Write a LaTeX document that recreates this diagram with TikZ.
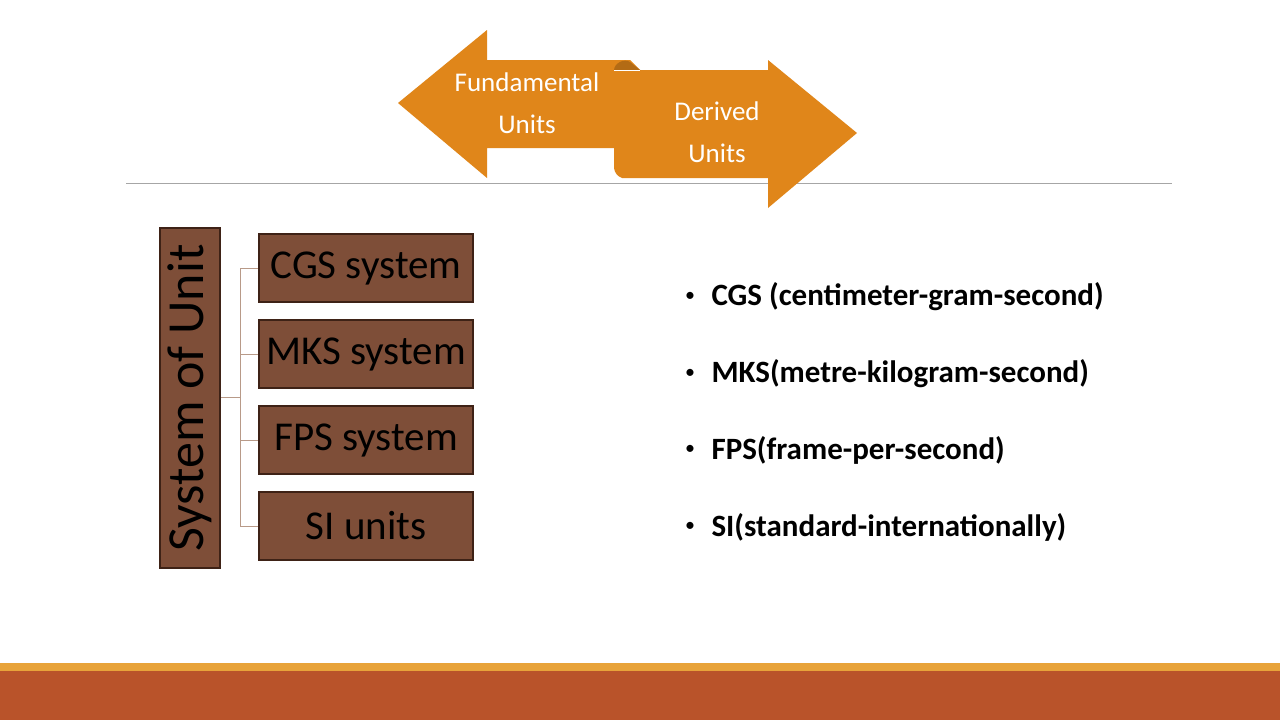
\documentclass[tikz,border=0pt]{standalone}
\usepackage{fontspec}
\setmainfont{Carlito}
\definecolor{org}{HTML}{E0861A}
\definecolor{brn}{HTML}{7E4E38}
\definecolor{brd}{HTML}{3E2216}
\definecolor{bar1}{HTML}{E8A33A}
\definecolor{bar2}{HTML}{B9532A}
\definecolor{lnk}{HTML}{B89A88}
\begin{document}
\begin{tikzpicture}[x=1pt,y=-1pt,
  box/.style={draw=brd,line width=2pt,fill=brn,minimum width=214pt,minimum height=68pt,inner sep=0pt,font=\fontsize{41}{46}\selectfont},
  bul/.style={anchor=west,font=\fontsize{31}{34}\selectfont\bfseries},
  wt/.style={text=white,font=\fontsize{27}{32}\selectfont}]
\useasboundingbox (0,0) rectangle (1280,720);
\fill[white] (0,0) rectangle (1280,720);
\fill[bar1] (0,663) rectangle (1280,671);
\fill[bar2] (0,671) rectangle (1280,720);
\draw[gray!70,line width=1pt] (126,183) -- (1172,183);
% arrows
\fill[org] (398,103) -- (487,30) -- (487,60) -- (630,60) -- (640,70) -- (640,148) -- (487,148) -- (487,178) -- cycle;
\fill[org] (614,70) -- (768,70) -- (768,60) -- (857,133) -- (768,208) -- (768,178) -- (622,178) to[bend left=30] (614,168) -- cycle;
\fill[org!80!black] (614,70) to[bend left=60] (630,62) -- (640,70) -- cycle;
\draw[white,line width=1pt] (614,70) -- (640,70);
\node[wt] (fu1) at (527,82) {Fundamental};
\node[wt] (fu2) at (527,124) {Units};
\node[wt] (du1) at (717,111) {Derived};
\node[wt] (du2) at (717,153) {Units};
% tree
\node[draw=brd,line width=2pt,fill=brn,minimum width=60pt,minimum height=340pt,inner sep=0pt] (sys) at (190,398) {};
\node[rotate=90,font=\fontsize{52}{56}\selectfont] (syst) at (sys.center) {System of Unit};
\node[box] (cgs) at (366,268) {CGS system};
\node[box] (mks) at (366,354) {MKS system};
\node[box] (fps) at (366,440) {FPS system};
\node[box] (si) at (366,526) {SI units};
\coordinate (j) at (240,397);
\draw[lnk,line width=1pt] (sys.east|-j) -- (j);
\foreach \b in {cgs,mks,fps,si} \draw[lnk,line width=1pt] (j) |- (\b.west);
% bullets
\foreach \y/\t [count=\i] in {297/CGS (centimeter-gram-second),374/MKS(metre-kilogram-second),450/FPS(frame-per-second),527/SI(standard-internationally)}{
  \node[font=\fontsize{20}{24}\selectfont] (b\i) at (690,\y) {•};
  \node[bul] (t\i) at (708,\y) {\t};
}
\end{tikzpicture}
\end{document}
